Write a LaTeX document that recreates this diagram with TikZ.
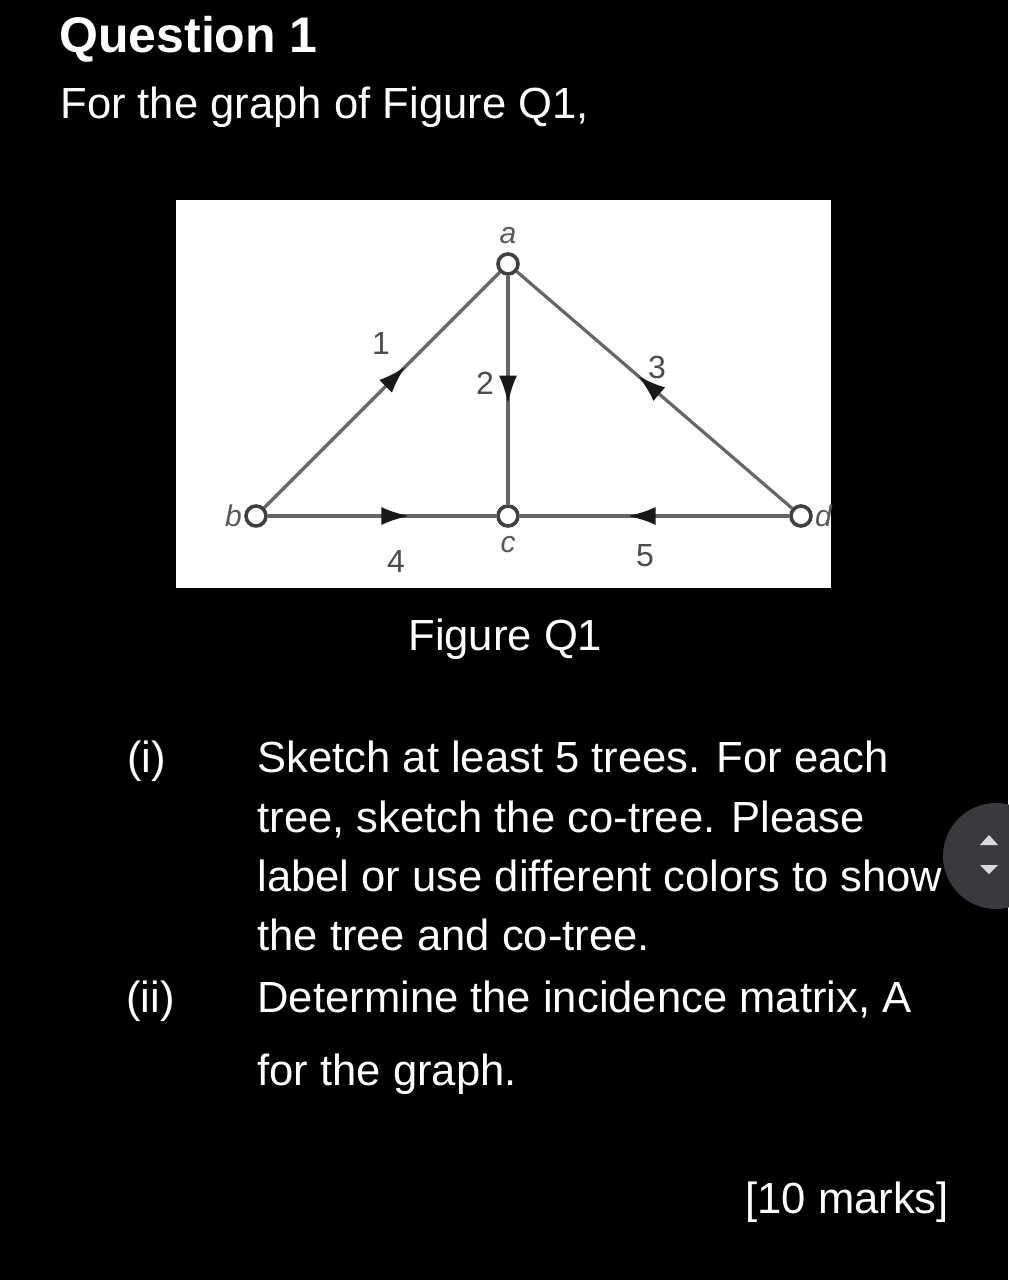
\documentclass[tikz,border=0pt]{standalone}
\usepackage{fontspec}
\setmainfont{Liberation Sans}
\usetikzlibrary{arrows.meta,positioning,decorations.markings}
\definecolor{knob}{RGB}{58,58,62}

\begin{document}
\begin{tikzpicture}[x=0.5pt, y=-0.5pt,
                    every line/.style = {text=white, inner sep=0pt, anchor=base west},
                    heading/.style = {every line, font=\fontsize{25}{30}\selectfont\bfseries},
                    body/.style = {every line, font=\fontsize{21.8}{26}\selectfont},
                    vertex/.style = {circle, draw=black!75, fill=white, line width=1.8pt, minimum size=10pt, inner sep=0pt},
                    vertex name/.style = {text=black!65, font=\fontsize{15}{18}\selectfont\itshape, inner sep=1pt},
                    branch name/.style = {text=black!70, font=\fontsize{16}{19}\selectfont, inner sep=0pt},
                    branch/.style = {draw=black!60, line width=1.6pt},
                    arrow at/.style = {postaction={decorate},
                            decoration={markings, mark=at position #1 with {\arrow[black!90]{Latex[length=14pt,width=9pt]}}}} ]

                \useasboundingbox (0,0) rectangle (1008,1280);
                \fill[black] (0,0) rectangle (1008,1280);

                \node [heading] (title) at (59,52) {Question 1};
                \node [body] (intro) at (60,118) {For the graph of Figure Q1,};

                % figure
                \fill[white] (176,200) rectangle (831,588);
                \node [vertex] (a) at (508,264) {};
                \node [vertex] (b) at (256,516) {};
                \node [vertex] (c) at (508,516) {};
                \node [vertex] (d) at (801,516) {};
                \node [vertex name, above=3pt of a] (na) {a};
                \node [vertex name, left=0pt of b] (nb) {b};
                \node [vertex name, below=3pt of c] (nc) {c};
                \node [vertex name, right=0pt of d] (nd) {d};

                \draw [branch, arrow at=0.60] (b) -- (a);
                \draw [branch, arrow at=0.56] (a) -- (c);
                \draw [branch, arrow at=0.56] (d) -- (a);
                \draw [branch, arrow at=0.62] (b) -- (c);
                \draw [branch, arrow at=0.60] (d) -- (c);
                \node [branch name] (e1) at (381,343) {1};
                \node [branch name] (e2) at (485,383) {2};
                \node [branch name] (e3) at (657,367) {3};
                \node [branch name] (e4) at (396,561) {4};
                \node [branch name] (e5) at (645,556) {5};

                \node [body] (caption) at (408,650) {Figure Q1};

                % parts
                \node [body] (part1) at (127,772) {(i)};
                \node [body] (line1) at (257,772) {Sketch at least 5 trees. For each};
                \node [body] (line2) at (257,832) {tree, sketch the co-tree. Please};
                \node [body] (line3) at (257,891) {label or use different colors to show};
                \node [body] (line4) at (257,950) {the tree and co-tree.};
                \node [body] (part2) at (126,1012) {(ii)};
                \node [body] (line5) at (257,1012) {Determine the incidence matrix, A};
                \node [body] (line6) at (257,1085) {for the graph.};
                \node [body] (marks) at (745,1213) {[10 marks]};

                % scroll knob
                \fill[knob] (996,856) circle [radius=26.5pt];
                \fill[white!85!black] (980,845) -- (998,845) -- (989,835) -- cycle;
                \fill[white!85!black] (980,865) -- (998,865) -- (989,874) -- cycle;

            \end{tikzpicture}
\end{document}
